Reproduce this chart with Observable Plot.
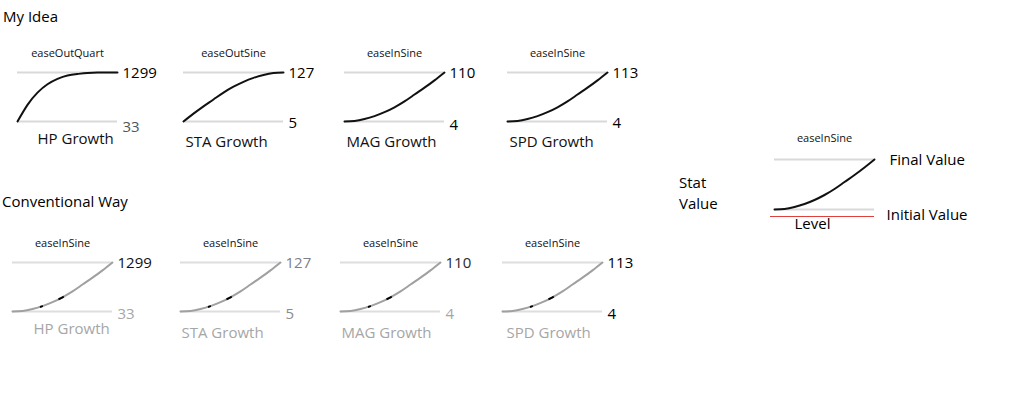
<!DOCTYPE html>
<html><head><meta charset="utf-8">
<script src="https://cdn.jsdelivr.net/npm/d3@7"></script>
<script src="https://cdn.jsdelivr.net/npm/@observablehq/plot@0.6"></script>
<style>
body{margin:0;background:#fff;font-family:"Open Sans",sans-serif;}
#root{position:relative;width:1024px;height:399px;overflow:hidden;background:#fff;}
.abs{position:absolute;}
.h{font-size:15px;color:#000;line-height:20px;white-space:nowrap;}
svg{overflow:visible;}
</style></head><body><div id="root"></div>
<script>
// ---- data ----
const stats = ["HP Growth", "STA Growth", "MAG Growth", "SPD Growth"];
const initialValues = [33, 5, 4, 4];
const finalValues = [1299, 127, 110, 113];
const myIdeaEasing = ["easeOutQuart", "easeOutSine", "easeInSine", "easeInSine"];
const conventionalEasing = ["easeInSine", "easeInSine", "easeInSine", "easeInSine"];
const sectionTitles = ["My Idea", "Conventional Way"];
const legendTexts = ["Stat", "Value", "Final Value", "Initial Value", "Level"];
const legendEasing = "easeInSine";
// curve shapes: share of growth reached at each level step
const levelProgress = [0, 0.1, 0.2, 0.3, 0.4, 0.5, 0.6, 0.7, 0.8, 0.9, 1];
const easeOutQuartShape = [0, 0.34, 0.59, 0.76, 0.87, 0.94, 0.97, 0.99, 1, 1, 1];
const easeOutSineShape = [0, 0.16, 0.31, 0.45, 0.59, 0.71, 0.81, 0.89, 0.95, 0.99, 1];
const easeInSineShape = [0, 0.01, 0.05, 0.11, 0.19, 0.29, 0.41, 0.55, 0.69, 0.84, 1];

const shapes = {easeOutQuart: easeOutQuartShape, easeOutSine: easeOutSineShape, easeInSine: easeInSineShape};

// ---- layout ----
const root = document.getElementById("root");
const M = {top: 30, right: 75, bottom: 34, left: 4};
const FW = 100;

function addText(txt, left, top, cls, color) {
  const d = document.createElement("div");
  d.className = "abs " + cls;
  d.style.left = left + "px";
  d.style.top = top + "px";
  if (color) d.style.color = color;
  d.textContent = txt;
  root.appendChild(d);
}

function panel(o) {
  const shape = shapes[o.easing];
  const pts = levelProgress.map((t, i) => ({t, v: o.initial + shape[i] * (o.final - o.initial)}));
  const marks = [
    Plot.ruleY([o.initial, o.final], {stroke: o.gridColor, strokeWidth: 2}),
    Plot.line(pts, {x: "t", y: "v", stroke: o.curveColor, strokeWidth: 2, curve: "natural"})
  ];
  if (o.conventional) {
    marks.push(Plot.line(pts, {x: "t", y: "v", stroke: "#000", strokeWidth: 2, curve: "natural", strokeLinecap: "butt", strokeDasharray: "0 28 3 17 6 999"}));
  }
  marks.push(
    Plot.text([o.easing], {frameAnchor: "top", lineAnchor: "middle", dy: -19, fontSize: 11, fill: "#111"}),
    Plot.text([o.final], {y: d => d, text: d => String(d), frameAnchor: "right", lineAnchor: "middle", textAnchor: "start", dx: 5, dy: 1, fontSize: 15, fill: o.finalColor}),
    Plot.text([o.initial], {y: d => d, text: d => String(d), frameAnchor: "right", lineAnchor: "middle", textAnchor: "start", dx: 5, dy: o.initialDy, fontSize: 15, fill: o.initialColor}),
    Plot.text([o.label], {frameAnchor: "bottom-left", lineAnchor: "middle", textAnchor: "start", dx: o.labelDx, dy: o.labelDy, fontSize: 15, fill: o.labelColor})
  );
  const p = Plot.plot({
    width: M.left + FW + M.right,
    height: M.top + o.frameH + M.bottom,
    marginTop: M.top, marginRight: M.right, marginBottom: M.bottom, marginLeft: M.left,
    x: {axis: null, domain: [0, 1]},
    y: {axis: null, domain: [o.initial, o.final]},
    style: {fontFamily: "'Open Sans', sans-serif", background: "transparent", overflow: "visible"},
    marks
  });
  const wrap = document.createElement("div");
  wrap.className = "abs";
  wrap.style.left = (o.x - M.left) + "px";
  wrap.style.top = (o.y - M.top) + "px";
  wrap.appendChild(p);
  root.appendChild(wrap);
}

// section headings
addText(sectionTitles[0], 3, 6, "h");
addText(sectionTitles[1], 2, 191, "h");

const row1X = [17, 183, 344, 507];
const row2X = [12, 180, 340, 502];
const row2FinalColors = ["#111", "#808080", "#2a2a2a", "#000"];
const row2InitialColors = ["#a6a6a6", "#8c8c8c", "#a6a6a6", "#000"];

stats.forEach((s, i) => {
  panel({
    x: row1X[i], y: 72, frameH: 49,
    easing: myIdeaEasing[i], label: s,
    initial: initialValues[i], final: finalValues[i],
    gridColor: "#d9d9d9", curveColor: "#111",
    finalColor: "#000", initialColor: i === 0 ? "#555" : "#000",
    initialDy: i === 0 ? 6 : (i === 2 ? 4 : 2),
    labelColor: "#111", labelDx: i === 0 ? 20 : 2, labelDy: i === 0 ? 18 : 21
  });
  panel({
    x: row2X[i], y: 262, frameH: 49, conventional: true,
    easing: conventionalEasing[i], label: s,
    initial: initialValues[i], final: finalValues[i],
    gridColor: "#dedede", curveColor: "#a0a0a0",
    finalColor: row2FinalColors[i], initialColor: row2InitialColors[i],
    initialDy: 3,
    labelColor: "#a6a6a6", labelDx: i === 0 ? 21 : (i === 3 ? 4 : 1), labelDy: i === 0 ? 18 : 22
  });
});

// legend / explanation panel
(function legend() {
  const shape = shapes[legendEasing];
  const pts = levelProgress.map((t, i) => ({t, v: shape[i]}));
  const p = Plot.plot({
    width: M.left + FW + M.right + 40,
    height: M.top + 50 + M.bottom,
    marginTop: M.top, marginRight: M.right + 40, marginBottom: M.bottom, marginLeft: M.left,
    x: {axis: null, domain: [0, 1]},
    y: {axis: null, domain: [0, 1]},
    style: {fontFamily: "'Open Sans', sans-serif", background: "transparent", overflow: "visible"},
    marks: [
      Plot.ruleY([0, 1], {stroke: "#d9d9d9", strokeWidth: 2}),
      Plot.ruleY([0], {dy: 7, stroke: "#e0403c", strokeWidth: 1.2, insetLeft: -4}),
      Plot.line(pts, {x: "t", y: "v", stroke: "#111", strokeWidth: 2, curve: "natural"}),
      Plot.text([legendEasing], {frameAnchor: "top", lineAnchor: "middle", dy: -21, fontSize: 11, fill: "#111"}),
      Plot.text([legendTexts[2]], {y: () => 1, frameAnchor: "right", lineAnchor: "middle", textAnchor: "start", dx: 15, dy: 1, fontSize: 15, fill: "#000"}),
      Plot.text([legendTexts[3]], {y: () => 0, frameAnchor: "right", lineAnchor: "middle", textAnchor: "start", dx: 12, dy: 6, fontSize: 15, fill: "#000"}),
      Plot.text([legendTexts[4]], {frameAnchor: "bottom", lineAnchor: "middle", dx: -12, dy: 15, fontSize: 15, fill: "#000"})
    ]
  });
  const wrap = document.createElement("div");
  wrap.className = "abs";
  wrap.style.left = (774 - M.left) + "px";
  wrap.style.top = (159 - M.top) + "px";
  wrap.appendChild(p);
  root.appendChild(wrap);
  addText(legendTexts[0], 679, 172, "h");
  addText(legendTexts[1], 679, 193, "h");
})();
</script>
</body></html>
